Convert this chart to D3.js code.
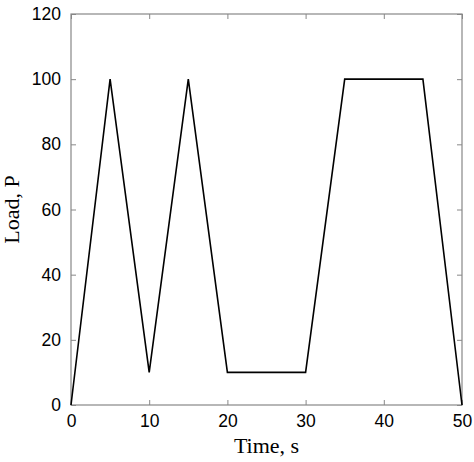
<!DOCTYPE html>
<html lang="en">
<head>
	<meta charset="UTF-8"/>
	<title>Load vs Time</title>
	<script src="https://d3js.org/d3.v7.min.js"></script>
	<style>
		body { margin: 0; background: #fff; }
	</style>
</head>
<body>
	<script>
		var w = 474;
		var h = 462;
		var margin = {top: 14, right: 12, bottom: 57, left: 71};

		// load history
		var time = [0, 5, 10, 15, 20, 30, 35, 45, 50];
		var load = [0, 100, 10, 100, 10, 10, 100, 100, 0];
		var xTicks = [0, 10, 20, 30, 40, 50];
		var yTicks = [0, 20, 40, 60, 80, 100, 120];

		var xScale = d3.scaleLinear()
			.domain([0, 50])
			.range([margin.left, w - margin.right]);

		var yScale = d3.scaleLinear()
			.domain([0, 120])
			.range([h - margin.bottom, margin.top]);

		var svg = d3.select("body")
			.append("svg")
			.attr("width", w)
			.attr("height", h);

		var frameColor = "#888";

		// ticks on all four sides, pointing in
		function styleAxis(g) {
			g.select(".domain").remove();
			g.selectAll(".tick line").attr("stroke", frameColor);
			g.selectAll(".tick text")
				.attr("fill", "#000")
				.style("font-family", "'Liberation Sans', Arial, sans-serif")
				.style("font-size", "17.5px");
		}

		svg.append("g")
			.attr("transform", "translate(0," + (h - margin.bottom) + ")")
			.call(d3.axisBottom(xScale).tickValues(xTicks).tickSizeInner(-5).tickSizeOuter(0).tickPadding(10))
			.call(styleAxis);

		svg.append("g")
			.attr("transform", "translate(0," + margin.top + ")")
			.call(d3.axisTop(xScale).tickValues(xTicks).tickSizeInner(-5).tickSizeOuter(0).tickFormat(""))
			.call(styleAxis);

		svg.append("g")
			.attr("transform", "translate(" + margin.left + ",0)")
			.call(d3.axisLeft(yScale).tickValues(yTicks).tickSizeInner(-5).tickSizeOuter(0).tickPadding(10))
			.call(styleAxis);

		svg.append("g")
			.attr("transform", "translate(" + (w - margin.right) + ",0)")
			.call(d3.axisRight(yScale).tickValues(yTicks).tickSizeInner(-5).tickSizeOuter(0).tickFormat(""))
			.call(styleAxis);

		// frame
		svg.append("rect")
			.attr("x", margin.left)
			.attr("y", margin.top)
			.attr("width", w - margin.left - margin.right)
			.attr("height", h - margin.top - margin.bottom)
			.attr("fill", "none")
			.attr("stroke", frameColor)
			.attr("stroke-width", 1.2);

		// the load line
		var line = d3.line()
			.x(function(d, i) { return xScale(time[i]); })
			.y(function(d) { return yScale(d); });

		svg.append("path")
			.datum(load)
			.attr("d", line)
			.attr("fill", "none")
			.attr("stroke", "#000")
			.attr("stroke-width", 1.6);

		// axis titles
		svg.append("text")
			.attr("x", (margin.left + w - margin.right) / 2)
			.attr("y", 453)
			.attr("text-anchor", "middle")
			.style("font-family", "'Liberation Serif', 'Times New Roman', serif")
			.style("font-size", "22px")
			.text("Time, s");

		svg.append("text")
			.attr("transform", "translate(19," + ((margin.top + h - margin.bottom) / 2) + ") rotate(-90)")
			.attr("text-anchor", "middle")
			.style("font-family", "'Liberation Serif', 'Times New Roman', serif")
			.style("font-size", "22px")
			.text("Load, P");
	</script>
</body>
</html>
